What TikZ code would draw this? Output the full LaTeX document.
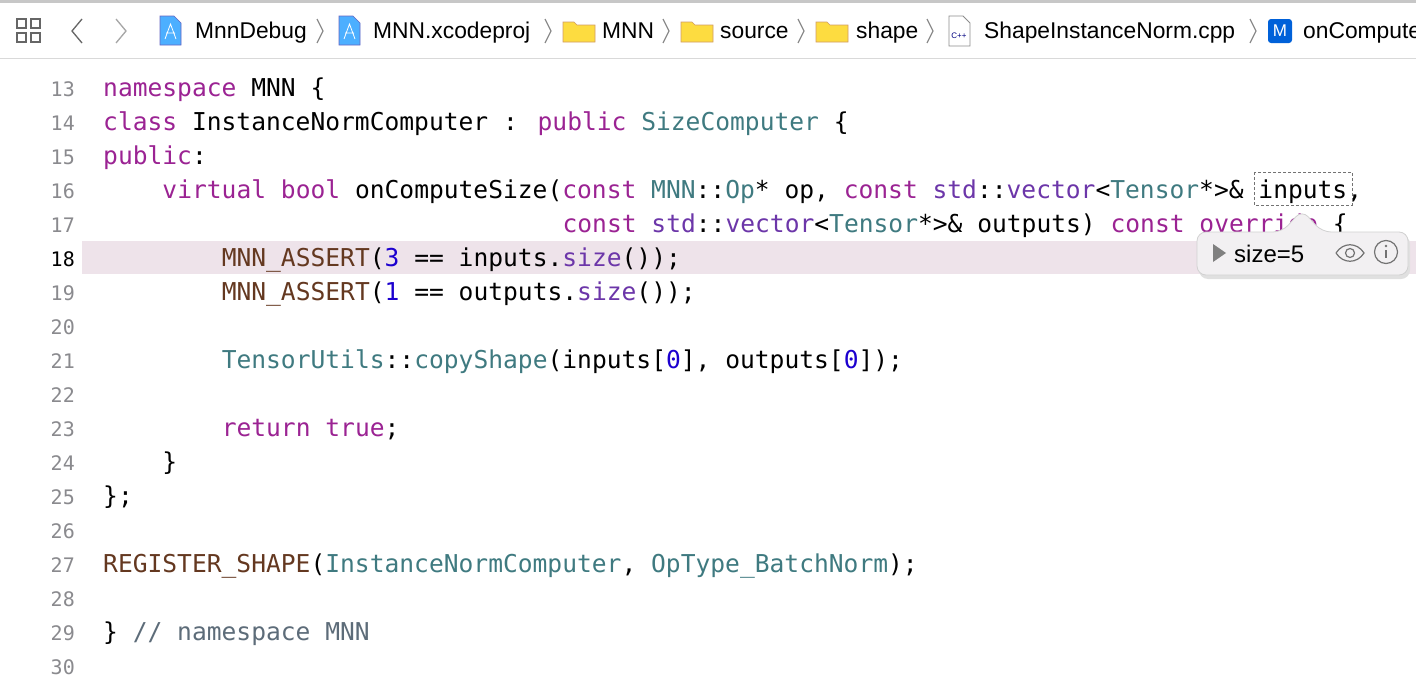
\documentclass[tikz,border=0pt]{standalone}
\usepackage{fontspec}
\setmainfont{Liberation Sans}
\newfontfamily\codefont{DejaVu Sans Mono}[Scale=1]
\definecolor{kw}{HTML}{9B2393}
\definecolor{ty}{HTML}{3F7A80}
\definecolor{lib}{HTML}{6C36A9}
\definecolor{mac}{HTML}{643820}
\definecolor{nm}{HTML}{1C00CF}
\definecolor{cm}{HTML}{5D6C79}
\definecolor{lnum}{HTML}{8A8A8E}
\definecolor{hl}{HTML}{EEE3EA}
\definecolor{tip}{HTML}{F2F0F2}
\newcommand{\K}[1]{\textcolor{kw}{#1}}
\newcommand{\T}[1]{\textcolor{ty}{#1}}
\newcommand{\Lb}[1]{\textcolor{lib}{#1}}
\newcommand{\Mc}[1]{\textcolor{mac}{#1}}
\newcommand{\N}[1]{\textcolor{nm}{#1}}
\newcommand{\C}[1]{\textcolor{cm}{#1}}
\tikzset{
 code/.style={anchor=base west,inner sep=0pt,font=\codefont\fontsize{24.6}{28}\selectfont},
 lno/.style={anchor=base east,inner sep=0pt,text=lnum,font=\codefont\fontsize{20}{24}\selectfont},
 crumb/.style={anchor=base west,inner sep=0pt,font=\fontsize{22.8}{26}\selectfont},
 sep/.style={draw=black!45,line width=1.2pt},
 folder/.style={fill=yellow!70!orange!75,draw=orange!70!black!60,line width=0.6pt},
 appdoc/.style={fill=blue!45!cyan!70,draw=blue!60!black!60,line width=0.6pt},
}
\begin{document}
\begin{tikzpicture}[x=1pt,y=-1pt]
\useasboundingbox (0,0) rectangle (1416,696);
\fill[white] (0,0) rectangle (1416,696);
% highlight line 18
\fill[hl] (82,241) rectangle (1416,274);
% line numbers
\foreach \n in {13,...,17,19,20,...,30}{
  \node[lno] (l\n) at (75,{96+34*(\n-13)}) {\n};
}
\node[lno,text=black] (l18) at (75,{96+34*5}) {18};
\def\cw{14.82}
\def\cx#1{{103+#1*\cw}}
\node[code] (c13) at (103,96) {\K{namespace} MNN \{};
\node[code] (c14) at (103,130) {\K{class} InstanceNormComputer : \K{public} \T{SizeComputer} \{};
\node[code] (c15) at (103,164) {\K{public}:};
\node[code] (c16) at (\cx{4},198) {\K{virtual} \K{bool} onComputeSize(\K{const} \T{MNN}::\T{Op}* op, \K{const} \Lb{std}::\Lb{vector}<\T{Tensor}*>\& inputs,};
\node[code] (c17) at (\cx{31},232) {\K{const} \Lb{std}::\Lb{vector}<\T{Tensor}*>\& outputs) \K{const} \K{override} \{};
\node[code] (c18) at (\cx{8},266) {\Mc{MNN\_ASSERT}(\N{3} == inputs.\Lb{size}());};
\node[code] (c19) at (\cx{8},300) {\Mc{MNN\_ASSERT}(\N{1} == outputs.\Lb{size}());};
\node[code] (c21) at (\cx{8},368) {\T{TensorUtils}::\T{copyShape}(inputs[\N{0}], outputs[\N{0}]);};
\node[code] (c23) at (\cx{8},436) {\K{return} \K{true};};
\node[code] (c24) at (\cx{4},470) {\}};
\node[code] (c25) at (103,504) {\};};
\node[code] (c27) at (103,572) {\Mc{REGISTER\_SHAPE}(\T{InstanceNormComputer}, \T{OpType\_BatchNorm});};
\node[code] (c29) at (103,640) {\} \C{// namespace MNN}};
% dashed box around inputs
\draw[black!55,line width=1pt,dash pattern=on 3pt off 2pt] (1254,172) rectangle (1352,205);
% tooltip
\fill[black!12,rounded corners=9pt] (1199,235) rectangle (1410,279);
\filldraw[fill=tip,draw=black!18,line width=0.8pt,rounded corners=9pt]
  (1197,232) -- (1282,232) -- (1302,210) -- (1322,232) -- (1408,232) -- (1408,275) -- (1197,275) -- cycle;
\fill[black!50] (1213,244) -- (1226,253) -- (1213,262) -- cycle;
\node[crumb,font=\fontsize{24}{28}\selectfont] (sz) at (1234,262) {size=5};
\draw[black!55,line width=1.2pt] (1336,253) .. controls (1343,242) and (1357,242) .. (1364,253) .. controls (1357,264) and (1343,264) .. (1336,253);
\draw[black!55,line width=1.2pt] (1350,253) circle (4.5);
\draw[black!55,line width=1.2pt] (1386,252) circle (11.5);
\fill[black!55] (1386,246) circle (1.3);
\draw[black!55,line width=1.4pt] (1386,250) -- (1386,258);
% top bar
\fill[white] (0,0) rectangle (1416,58);
\fill[black!22] (0,0) rectangle (1416,3);
\draw[black!15,line width=1pt] (0,58.5) -- (1416,58.5);
% grid icon
\foreach \a/\b in {17/19,31/19,17/33,31/33}{\draw[black!60,line width=1.2pt] (\a,\b) rectangle ++(9,9);}
\draw[black!60,line width=1.3pt] (82,19) -- (72,31) -- (82,43);
\draw[black!35,line width=1.3pt] (116,19) -- (126,31) -- (116,43);
% app doc icons
\foreach \xx in {160,339}{
  \filldraw[appdoc] (\xx,16) -- (\xx+14,16) -- (\xx+21,23) -- (\xx+21,45) -- (\xx,45) -- cycle;
  \draw[white,line width=0.8pt] (\xx+5,39) -- (\xx+10.5,24) -- (\xx+16,39) (\xx+6,33) -- (\xx+15,33);
}
\node[crumb] (b1) at (195,38) {MnnDebug};
\draw[sep] (317,19) -- (323,31) -- (317,43);
\node[crumb] (b2) at (373,38) {MNN.xcodeproj};
\draw[sep] (545,19) -- (551,31) -- (545,43);
\filldraw[folder] (563,22) -- (574,22) -- (577,25) -- (595,25) -- (595,42) -- (563,42) -- cycle;
\node[crumb] (b3) at (602,38) {MNN};
\draw[sep] (663,19) -- (669,31) -- (663,43);
\filldraw[folder] (681,22) -- (692,22) -- (695,25) -- (713,25) -- (713,42) -- (681,42) -- cycle;
\node[crumb] (b4) at (720,38) {source};
\draw[sep] (798,19) -- (804,31) -- (798,43);
\filldraw[folder] (816,22) -- (827,22) -- (830,25) -- (848,25) -- (848,42) -- (816,42) -- cycle;
\node[crumb] (b5) at (856,38) {shape};
\draw[sep] (927,19) -- (933,31) -- (927,43);
\filldraw[fill=white,draw=black!45,line width=0.8pt] (949,16) -- (963,16) -- (970,23) -- (970,46) -- (949,46) -- cycle;
\node[inner sep=0pt,text=blue!50!black,font=\fontsize{8}{8}\selectfont] (cpp) at (959,36) {C++};
\node[crumb] (b6) at (984,38) {ShapeInstanceNorm.cpp};
\draw[sep] (1250,19) -- (1256,31) -- (1250,43);
\fill[blue!55!cyan!85!black,rounded corners=3pt] (1268,19) rectangle (1292,43);
\node[inner sep=0pt,text=white,font=\fontsize{17}{17}\selectfont] (mi) at (1280,31) {M};
\node[crumb] (b7) at (1303,38) {onComputeSize};
\end{tikzpicture}
\end{document}
